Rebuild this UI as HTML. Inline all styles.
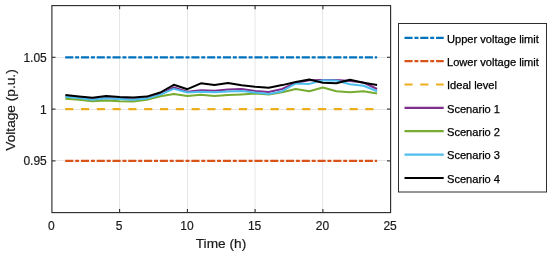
<!DOCTYPE html>
<html lang="en">
<head>
<meta charset="utf-8">
<title>Voltage profile</title>
<style>html,body{margin:0;padding:0;background:#ffffff;}body{width:550px;height:255px;overflow:hidden;}</style>
</head>
<body>
<svg width="550" height="255" viewBox="0 0 550 255" style="display:block">
<rect x="0" y="0" width="550" height="255" fill="#ffffff"/>
<line x1="119.5" y1="5.6" x2="119.5" y2="212.6" stroke="#e6e6e6" stroke-width="1"/>
<line x1="187.5" y1="5.6" x2="187.5" y2="212.6" stroke="#e6e6e6" stroke-width="1"/>
<line x1="255.0" y1="5.6" x2="255.0" y2="212.6" stroke="#e6e6e6" stroke-width="1"/>
<line x1="322.6" y1="5.6" x2="322.6" y2="212.6" stroke="#e6e6e6" stroke-width="1"/>
<line x1="51.9" y1="57.5" x2="390.6" y2="57.5" stroke="#e6e6e6" stroke-width="1"/>
<line x1="51.9" y1="109.5" x2="390.6" y2="109.5" stroke="#e6e6e6" stroke-width="1"/>
<line x1="51.9" y1="160.5" x2="390.6" y2="160.5" stroke="#e6e6e6" stroke-width="1"/>
<line x1="65.2" y1="57.3" x2="377.1" y2="57.3" stroke="#0072BD" stroke-width="2.2" stroke-dasharray="8.1 1.85 3.97 1.85"/>
<line x1="65.2" y1="160.9" x2="377.1" y2="160.9" stroke="#D95319" stroke-width="2.2" stroke-dasharray="8.1 1.85 3.97 1.85"/>
<line x1="65.2" y1="109.1" x2="377.1" y2="109.1" stroke="#EEAD1A" stroke-width="2.2" stroke-dasharray="8.1 7.7"/>
<polyline points="65.4,96.5 79.0,97.7 92.5,99.4 106.1,98.0 119.6,98.7 133.2,99.4 146.7,98.3 160.3,94.2 173.8,87.5 187.4,91.8 200.9,90.3 214.5,90.8 228.0,89.6 241.6,88.9 255.1,91.0 268.7,92.0 282.2,89.0 295.8,82.7 309.3,80.3 322.9,80.0 336.4,80.0 350.0,81.0 363.5,82.5 377.1,89.0" fill="none" stroke="#7E2F8E" stroke-width="2.0" stroke-linejoin="round"/>
<polyline points="65.4,98.7 79.0,99.7 92.5,101.2 106.1,100.5 119.6,101.2 133.2,101.4 146.7,99.8 160.3,96.2 173.8,94.0 187.4,95.9 200.9,94.8 214.5,95.9 228.0,95.0 241.6,94.4 255.1,93.6 268.7,94.4 282.2,92.3 295.8,89.0 309.3,91.2 322.9,87.5 336.4,91.2 350.0,92.2 363.5,91.2 377.1,93.4" fill="none" stroke="#77AC30" stroke-width="2.0" stroke-linejoin="round"/>
<polyline points="65.4,96.8 79.0,98.0 92.5,99.7 106.1,98.3 119.6,99.0 133.2,99.7 146.7,98.6 160.3,94.6 173.8,88.9 187.4,92.5 200.9,91.7 214.5,92.3 228.0,91.6 241.6,91.0 255.1,92.6 268.7,93.9 282.2,91.2 295.8,83.5 309.3,83.9 322.9,80.3 336.4,80.5 350.0,84.3 363.5,85.8 377.1,91.2" fill="none" stroke="#4DBEEE" stroke-width="2.0" stroke-linejoin="round"/>
<polyline points="65.4,95.1 79.0,96.4 92.5,97.8 106.1,96.1 119.6,97.1 133.2,97.6 146.7,96.6 160.3,92.5 173.8,84.8 187.4,89.2 200.9,83.3 214.5,85.0 228.0,83.1 241.6,85.3 255.1,86.7 268.7,87.8 282.2,85.1 295.8,82.0 309.3,79.5 322.9,82.8 336.4,83.2 350.0,79.8 363.5,82.7 377.1,85.1" fill="none" stroke="#000000" stroke-width="2.0" stroke-linejoin="round"/>
<line x1="119.6" y1="212.6" x2="119.6" y2="209.0" stroke="#2e2e2e" stroke-width="1.1"/>
<line x1="119.6" y1="5.6" x2="119.6" y2="9.2" stroke="#2e2e2e" stroke-width="1.1"/>
<line x1="187.4" y1="212.6" x2="187.4" y2="209.0" stroke="#2e2e2e" stroke-width="1.1"/>
<line x1="187.4" y1="5.6" x2="187.4" y2="9.2" stroke="#2e2e2e" stroke-width="1.1"/>
<line x1="255.1" y1="212.6" x2="255.1" y2="209.0" stroke="#2e2e2e" stroke-width="1.1"/>
<line x1="255.1" y1="5.6" x2="255.1" y2="9.2" stroke="#2e2e2e" stroke-width="1.1"/>
<line x1="322.9" y1="212.6" x2="322.9" y2="209.0" stroke="#2e2e2e" stroke-width="1.1"/>
<line x1="322.9" y1="5.6" x2="322.9" y2="9.2" stroke="#2e2e2e" stroke-width="1.1"/>
<line x1="51.9" y1="160.9" x2="55.5" y2="160.9" stroke="#2e2e2e" stroke-width="1.1"/>
<line x1="390.6" y1="160.9" x2="387.0" y2="160.9" stroke="#2e2e2e" stroke-width="1.1"/>
<line x1="51.9" y1="109.1" x2="55.5" y2="109.1" stroke="#2e2e2e" stroke-width="1.1"/>
<line x1="390.6" y1="109.1" x2="387.0" y2="109.1" stroke="#2e2e2e" stroke-width="1.1"/>
<line x1="51.9" y1="57.3" x2="55.5" y2="57.3" stroke="#2e2e2e" stroke-width="1.1"/>
<line x1="390.6" y1="57.3" x2="387.0" y2="57.3" stroke="#2e2e2e" stroke-width="1.1"/>
<rect x="51.9" y="5.6" width="338.70000000000005" height="207.0" fill="none" stroke="#2e2e2e" stroke-width="1.15"/>
<g font-family="'Liberation Sans', Arial, sans-serif" font-size="12.0" fill="#1a1a1a" stroke="#1a1a1a" stroke-width="0.2">
<text x="51.4" y="230.3" text-anchor="middle">0</text>
<text x="119.1" y="230.3" text-anchor="middle">5</text>
<text x="186.9" y="230.3" text-anchor="middle">10</text>
<text x="254.6" y="230.3" text-anchor="middle">15</text>
<text x="322.4" y="230.3" text-anchor="middle">20</text>
<text x="390.1" y="230.3" text-anchor="middle">25</text>
<text x="46.8" y="165.3" text-anchor="end">0.95</text>
<text x="46.8" y="113.5" text-anchor="end">1</text>
<text x="46.8" y="61.7" text-anchor="end">1.05</text>
</g>
<g font-family="'Liberation Sans', Arial, sans-serif" font-size="13.7" fill="#1a1a1a" stroke="#1a1a1a" stroke-width="0.2">
<text x="221" y="247.7" text-anchor="middle">Time (h)</text>
<text transform="translate(14.5,110) rotate(-90)" text-anchor="middle">Voltage (p.u.)</text>
</g>
<rect x="398.5" y="23.5" width="148.0" height="168.5" fill="#ffffff" stroke="#2e2e2e" stroke-width="1"/>
<g font-family="'Liberation Sans', Arial, sans-serif" font-size="11.1" fill="#000000" stroke="#000000" stroke-width="0.25">
<line x1="404.5" y1="37.8" x2="443.7" y2="37.8" stroke="#0072BD" stroke-width="2.2" stroke-dasharray="8.1 1.85 3.97 1.85"/>
<text x="447.0" y="42.5">Upper voltage limit</text>
<line x1="404.5" y1="61.1" x2="443.7" y2="61.1" stroke="#D95319" stroke-width="2.2" stroke-dasharray="8.1 1.85 3.97 1.85"/>
<text x="447.0" y="65.8">Lower voltage limit</text>
<line x1="404.5" y1="84.5" x2="443.7" y2="84.5" stroke="#EEAD1A" stroke-width="2.2" stroke-dasharray="8.1 7.7"/>
<text x="447.0" y="89.2">Ideal level</text>
<line x1="404.5" y1="107.9" x2="443.7" y2="107.9" stroke="#7E2F8E" stroke-width="2.2"/>
<text x="447.0" y="112.6">Scenario 1</text>
<line x1="404.5" y1="131.2" x2="443.7" y2="131.2" stroke="#77AC30" stroke-width="2.2"/>
<text x="447.0" y="135.9">Scenario 2</text>
<line x1="404.5" y1="154.6" x2="443.7" y2="154.6" stroke="#4DBEEE" stroke-width="2.2"/>
<text x="447.0" y="159.3">Scenario 3</text>
<line x1="404.5" y1="178.0" x2="443.7" y2="178.0" stroke="#000000" stroke-width="2.2"/>
<text x="447.0" y="182.7">Scenario 4</text>
</g>
</svg>
</body>
</html>
